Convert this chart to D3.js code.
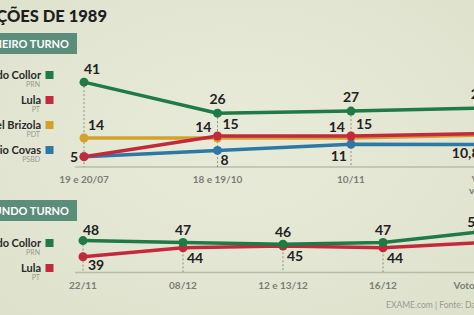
<!DOCTYPE html>
<html><head><meta charset="utf-8">
<script src="https://cdn.jsdelivr.net/npm/d3@7"></script>
<style>
html,body{margin:0;padding:0;background:#e5e8d6;overflow:hidden}
svg{display:block;font-family:Lato,"Open Sans",sans-serif}
</style></head><body>
<svg id="c" width="474" height="315"></svg>
<script>
// ---- data ----
const round1Dates = ["19 e 20/07", "18 e 19/10", "10/11", "Votos|válidos"];
const collor1 = [41, 26, 27, 28.5];
const lula1 = [5, 15, 15, 16.1];
const brizola1 = [14, 14, 14, 15.5];
const covas1 = [5, 8, 11, 10.8];
const round1Labels = {
  collor: ["41", "26", "27", "28,5"],
  lula: ["5", "15", "15", ""],
  brizola: ["14", "14", "14", ""],
  covas: ["", "8", "11", "10,8"]
};
const round2Dates = ["22/11", "08/12", "12 e 13/12", "16/12", "Votos válidos"];
const collor2 = [48, 47, 46, 47, 53];
const lula2 = [39, 44, 45, 44, 47];
const legend1 = [["Fernando Collor", "PRN"], ["Lula", "PT"], ["Leonel Brizola", "PDT"], ["Mário Covas", "PSBD"]];
const legend2 = [["Fernando Collor", "PRN"], ["Lula", "PT"]];

const C = {collor: "#1f7a45", lula: "#c22a3c", brizola: "#d3a22e", covas: "#2f78a6"};

const svg = d3.select("#c");
const defs = svg.append("defs");
const g0 = defs.append("radialGradient").attr("id", "bg").attr("cx", "50%").attr("cy", "45%").attr("r", "70%");
g0.append("stop").attr("offset", "0%").attr("stop-color", "#e9ebda");
g0.append("stop").attr("offset", "100%").attr("stop-color", "#dee2cd");
svg.append("rect").attr("width", 474).attr("height", 315).attr("fill", "url(#bg)");

// title
svg.append("text").attr("x", 107).attr("y", 22).attr("text-anchor", "end")
  .attr("font-size", 16.5).attr("font-weight", 900).attr("fill", "#1e1e1e")
  .text("ELEIÇÕES DE 1989");

function badge(y, label) {
  svg.append("rect").attr("x", -40).attr("y", y).attr("width", 117).attr("height", 21).attr("fill", "#5b8d7b");
  svg.append("text").attr("x", 69).attr("y", y + 15).attr("text-anchor", "end")
    .attr("font-size", 11).attr("font-weight", 700).attr("fill", "#fff").text(label);
}
badge(33, "PRIMEIRO TURNO");
badge(200, "SEGUNDO TURNO");

function legend(items, y0, colors) {
  items.forEach((d, i) => {
    const y = y0 + i * 25;
    svg.append("text").attr("x", 41).attr("y", y).attr("text-anchor", "end")
      .attr("font-size", 11).attr("font-weight", 700).attr("fill", "#2a2a2a").text(d[0]);
    svg.append("text").attr("x", 40).attr("y", y + 8).attr("text-anchor", "end")
      .attr("font-size", 7).attr("font-weight", 400).attr("fill", "#9a9a90").text(d[1]);
    svg.append("rect").attr("x", 45.5).attr("y", y - 8).attr("width", 8).attr("height", 8).attr("fill", colors[i]);
  });
}
legend(legend1, 79, [C.collor, C.lula, C.brizola, C.covas]);
legend(legend2, 247, [C.collor, C.lula]);

// ---- chart 1 ----
const x1 = d3.scalePoint().domain(round1Dates).range([84, 484.5]);
const y1 = d3.scaleLinear().domain([0, 45]).range([167, 167 - 45 * 2.07]);

svg.append("line").attr("x1", 75).attr("x2", 480).attr("y1", 167).attr("y2", 167)
  .attr("stroke", "#b9bcaa").attr("stroke-width", 1.5);
round1Dates.forEach(d => {
  d.split("|").forEach((p, k) => {
    svg.append("text").attr("x", x1(d)).attr("y", 183 + k * 11).attr("text-anchor", "middle")
      .attr("font-size", 10).attr("font-weight", 700).attr("fill", "#7b7d74").text(p);
  });
});
round1Dates.forEach((d, i) => {
  svg.append("line").attr("x1", x1(d)).attr("x2", x1(d)).attr("y1", y1(collor1[i])).attr("y2", 167)
    .attr("stroke", "#8e8f86").attr("stroke-width", 1).attr("stroke-dasharray", "2,2");
});

const line1 = d3.line().x((d, i) => x1(round1Dates[i])).y(d => y1(d));
const series1 = [["brizola", brizola1], ["covas", covas1], ["lula", lula1], ["collor", collor1]];
series1.forEach(([k, vals]) => {
  svg.append("path").datum(vals).attr("d", line1).attr("fill", "none")
    .attr("stroke", C[k]).attr("stroke-width", 3.5);
});
series1.forEach(([k, vals]) => {
  svg.selectAll(null).data(vals.slice(0, 3)).enter().append("circle")
    .attr("cx", (d, i) => x1(round1Dates[i])).attr("cy", d => y1(d)).attr("r", 4.5).attr("fill", C[k]);
});

function lab(x, y, t, anchor) {
  svg.append("text").attr("x", x).attr("y", y).attr("text-anchor", anchor)
    .attr("font-size", 14).attr("font-weight", 700).attr("fill", "#222").text(t);
}
round1Dates.forEach((d, i) => {
  const X = x1(d);
  if (i === 0) lab(X, y1(collor1[i]) - 8, round1Labels.collor[i], "start");
  else lab(X, y1(collor1[i]) - 9, round1Labels.collor[i], "middle");
  if (i === 0) {
    lab(X + 4, y1(brizola1[i]) - 8, round1Labels.brizola[i], "start");
    lab(X - 6, y1(lula1[i]) + 5, round1Labels.lula[i], "end");
  } else if (i < 3) {
    lab(X - 6, y1(brizola1[i]) - 6, round1Labels.brizola[i], "end");
    lab(X + 5, y1(lula1[i]) - 7, round1Labels.lula[i], "start");
    if (i === 1) lab(X + 3, y1(covas1[i]) + 15, round1Labels.covas[i], "start");
    else lab(X - 4, y1(covas1[i]) + 17, round1Labels.covas[i], "end");
  } else {
    lab(X - 5, y1(covas1[i]) + 13, round1Labels.covas[i], "end");
  }
});

// ---- chart 2 ----
const x2 = d3.scalePoint().domain(round2Dates).range([83, 483]);
const y2 = d3.scaleLinear().domain([30, 60]).range([273, 273 - 30 * 1.8]);
svg.append("line").attr("x1", 75).attr("x2", 480).attr("y1", 272.5).attr("y2", 272.5)
  .attr("stroke", "#b9bcaa").attr("stroke-width", 1.5);
round2Dates.forEach(d => {
  svg.append("text").attr("x", x2(d)).attr("y", 289).attr("text-anchor", "middle")
    .attr("font-size", 10).attr("font-weight", 700).attr("fill", "#7b7d74").text(d);
});
round2Dates.forEach((d, i) => {
  svg.append("line").attr("x1", x2(d)).attr("x2", x2(d)).attr("y1", y2(collor2[i])).attr("y2", 272)
    .attr("stroke", "#8e8f86").attr("stroke-width", 1).attr("stroke-dasharray", "2,2");
});
const line2 = d3.line().x((d, i) => x2(round2Dates[i])).y(d => y2(d));
[["lula", lula2], ["collor", collor2]].forEach(([k, vals]) => {
  svg.append("path").datum(vals).attr("d", line2).attr("fill", "none")
    .attr("stroke", C[k]).attr("stroke-width", 3.5);
  svg.selectAll(null).data(vals.slice(0, 4)).enter().append("circle")
    .attr("cx", (d, i) => x2(round2Dates[i])).attr("cy", d => y2(d)).attr("r", 4.5).attr("fill", C[k]);
});
round2Dates.forEach((d, i) => {
  const X = x2(d);
  if (i === 0) {
    lab(X, y2(collor2[i]) - 6, String(collor2[i]), "start");
    lab(X + 5, y2(lula2[i]) + 13, String(lula2[i]), "start");
  } else if (i < 4) {
    lab(X, y2(collor2[i]) - 7, String(collor2[i]), "middle");
    lab(X + 4, y2(lula2[i]) + 15, String(lula2[i]), "start");
  } else {
    lab(X - 2, y2(collor2[i]) - 5, "53,0", "middle");
  }
});

svg.append("text").attr("x", 386).attr("y", 308).attr("font-size", 8.5).attr("fill", "#9a9b92")
  .text("EXAME.com | Fonte: Datafolha");
</script>
</body></html>
